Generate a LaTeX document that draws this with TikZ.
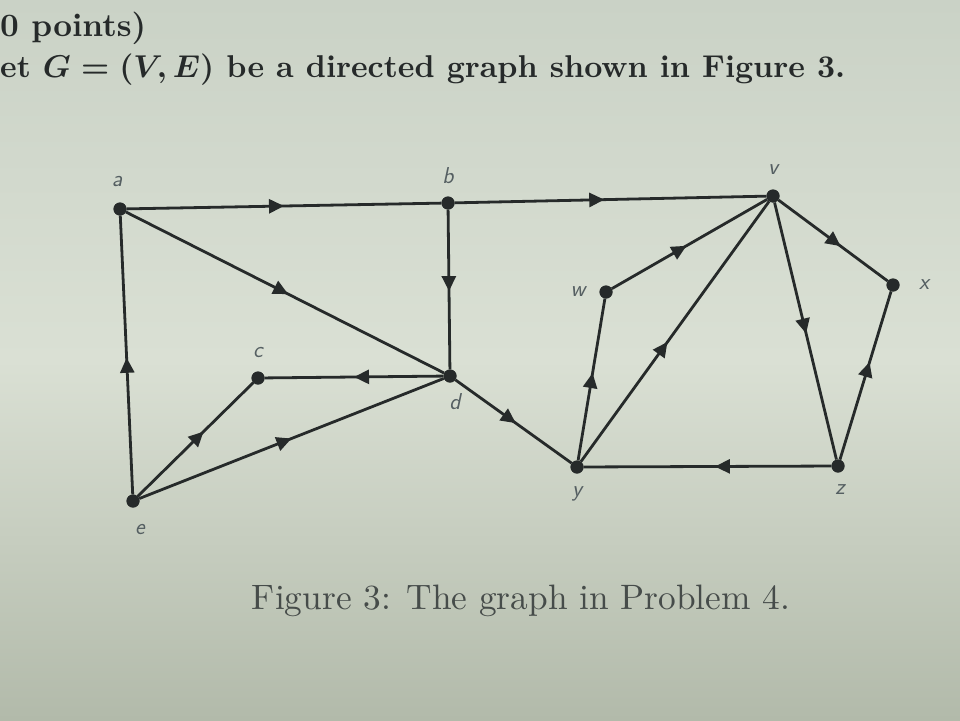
\documentclass[tikz,border=0pt]{standalone}
\usetikzlibrary{arrows.meta,decorations.markings}
\definecolor{bgtop}{RGB}{202,210,198}
\definecolor{bgmid}{RGB}{218,224,212}
\definecolor{bgbot}{RGB}{178,186,170}
\definecolor{ink}{RGB}{38,42,42}
\definecolor{lbl}{RGB}{85,95,98}
\definecolor{cap}{RGB}{70,76,74}
\tikzset{
  vert/.style={circle,fill=ink,inner sep=0pt,minimum size=13pt},
  vlabel/.style={text=lbl,font=\sffamily\itshape\fontsize{23}{23}\selectfont,inner sep=0pt},
  edge/.style={draw=ink,line width=2.8pt},
  mid/.style={postaction={decorate},decoration={markings,
     mark=at position #1 with {\arrow{Triangle[length=15pt,width=14pt]}}}},
}
\begin{document}
\begin{tikzpicture}[x=1pt,y=-1pt]
\useasboundingbox (0,0) rectangle (960,720);
\shade[top color=bgtop,bottom color=bgbot,middle color=bgmid] (0,0) rectangle (960,720);
% header text
\node[anchor=west,inner sep=0pt,text=ink] (h1) at (0,28)
  {\resizebox{146pt}{!}{\bfseries 0 points)}};
\node[anchor=west,inner sep=0pt,text=ink] (h2) at (0,70)
  {\resizebox{845pt}{!}{\bfseries\boldmath et $G=(V,E)$ be a directed graph shown in Figure 3.}};
% vertices
\node[vert] (a) at (120,209) {};
\node[vert] (b) at (448,203) {};
\node[vert] (v) at (773,196) {};
\node[vert] (w) at (606,292) {};
\node[vert] (x) at (893,285) {};
\node[vert] (c) at (258,378) {};
\node[vert] (d) at (450,376) {};
\node[vert] (y) at (577,467) {};
\node[vert] (z) at (838,466) {};
\node[vert] (e) at (133,501) {};
% labels
\node[vlabel] (la) at (117,182) {a};
\node[vlabel] (lb) at (448,176) {b};
\node[vlabel] (lv) at (773,170) {v};
\node[vlabel] (lw) at (578,292) {w};
\node[vlabel] (lx) at (924,285) {x};
\node[vlabel] (lc) at (258,353) {c};
\node[vlabel] (ld) at (455,402) {d};
\node[vlabel] (ly) at (577,494) {y};
\node[vlabel] (lz) at (840,490) {z};
\node[vlabel] (le) at (140,530) {e};
% edges
\draw[edge,mid=0.5] (a) -- (b);
\draw[edge,mid=0.48] (b) -- (v);
\draw[edge,mid=0.51] (a) -- (d);
\draw[edge,mid=0.51] (b) -- (d);
\draw[edge,mid=0.49] (e) -- (a);
\draw[edge,mid=0.5] (d) -- (c);
\draw[edge,mid=0.57] (e) -- (c);
\draw[edge,mid=0.5] (e) -- (d);
\draw[edge,mid=0.52] (d) -- (y);
\draw[edge,mid=0.54] (y) -- (w);
\draw[edge,mid=0.46] (y) -- (v);
\draw[edge,mid=0.48] (w) -- (v);
\draw[edge,mid=0.57] (v) -- (x);
\draw[edge,mid=0.51] (v) -- (z);
\draw[edge,mid=0.58] (z) -- (x);
\draw[edge,mid=0.47] (z) -- (y);
% redraw vertices on top
\foreach \n in {a,b,v,w,x,c,d,y,z,e} \fill[ink] (\n) circle (6.5pt);
% caption
\node[inner sep=0pt,text=cap] (capt) at (521,601)
  {\resizebox{538pt}{!}{Figure 3: The graph in Problem 4.}};
\end{tikzpicture}
\end{document}
